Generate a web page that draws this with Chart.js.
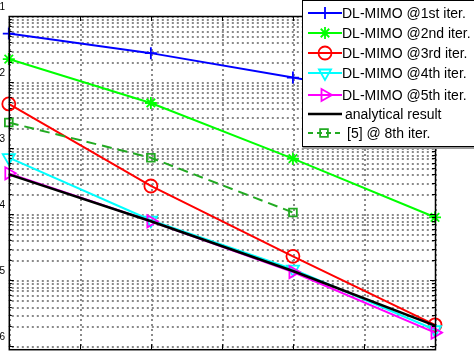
<!DOCTYPE html>
<html>
<head>
<meta charset="utf-8">
<script src="https://cdn.jsdelivr.net/npm/chart.js@4/dist/chart.umd.min.js"></script>
<style>
html,body{margin:0;padding:0;background:#fff;overflow:hidden;}
canvas{display:block;}
</style>
</head>
<body>
<canvas id="c" width="474" height="358"></canvas>
<script>
// ---- data ----
const xValues = [0, 2, 4, 6];
const xTicks = [0, 1, 2, 3, 4, 5, 6];
const iter1 = [0.0542, 0.0274, 0.0117, 0.00482];
const iter2 = [0.0223, 0.00482, 0.000692, 0.0000897];
const iter3 = [0.00467, 0.000267, 0.0000230, 0.00000211];
const iter4 = [0.000716, 0.0000809, 0.0000147, 0.00000178];
const iter5 = [0.000415, 0.0000781, 0.0000133, 0.00000161];
const analytical = [0.000401, 0.0000781, 0.0000138, 0.00000205];
const ref5 = [0.00244, 0.000716, 0.000106];
const seriesNames = ['DL-MIMO @1st iter.', 'DL-MIMO @2nd iter.', 'DL-MIMO @3rd iter.',
  'DL-MIMO @4th iter.', 'DL-MIMO @5th iter.', 'analytical result', '[5] @ 8th iter.'];
const yDecades = [1e-1, 1e-2, 1e-3, 1e-4, 1e-5, 1e-6];
const yTickLabels = ['1', '2', '3', '4', '5', '6'];

const pts = (ys) => ys.map((y, i) => ({x: xValues[i], y: y}));

function ds(label, data, color, style, rot, radius, extra) {
  return Object.assign({
    label: label, data: pts(data), borderColor: color, backgroundColor: 'transparent',
    pointStyle: style, pointRotation: rot, pointRadius: radius, pointBorderWidth: 1.8,
    pointBorderColor: color, pointBackgroundColor: 'rgba(0,0,0,0)',
    borderWidth: 2, tension: 0, clip: false, fill: false
  }, extra || {});
}

const datasets = [
  ds(seriesNames[0], iter1, '#0000ff', 'cross', 0, 6, {order: 7}),
  ds(seriesNames[1], iter2, '#00ff00', 'star', 0, 6, {order: 6}),
  ds(seriesNames[2], iter3, '#ff0000', 'circle', 0, 6.5, {order: 5}),
  ds(seriesNames[3], iter4, '#00ffff', 'triangle', 180, 7, {order: 4}),
  ds(seriesNames[4], iter5, '#ff00ff', 'triangle', 90, 7, {order: 3}),
  ds(seriesNames[5], analytical, '#000000', 'line', 0, 0, {order: 2, borderWidth: 2.5}),
  ds(seriesNames[6], ref5, '#22aa22', 'rect', 0, 5.5, {order: 1, borderDash: [10, 6]})
];

function logTicks(min, max) {
  const t = [];
  for (let e = -7; e <= 0; e++) {
    for (let k = 1; k <= 9; k++) {
      const v = k * Math.pow(10, e);
      if (v >= min * 0.999 && v <= max * 1.001) t.push({value: v, major: k === 1});
    }
  }
  return t;
}

function drawDots(ctx, a, xs, ys) {
  ctx.save();
  ctx.fillStyle = '#8a8a8a';
  ys.ticks.forEach(t => {
    const py = Math.round(ys.getPixelForValue(t.value));
    for (let px = a.left + 3; px < a.right - 1; px += 5) ctx.fillRect(px, py, 2, 2);
  });
  xTicks.forEach(v => {
    const px = Math.round(xs.getPixelForValue(v));
    for (let py = a.top + 3; py < a.bottom - 1; py += 5) ctx.fillRect(px, py, 2, 2);
  });
  ctx.restore();
}

const frame = {
  id: 'frame',
  beforeDatasetsDraw(chart) {
    drawDots(chart.ctx, chart.chartArea, chart.scales.x, chart.scales.y);
  },
  afterDraw(chart) {
    const ctx = chart.ctx, a = chart.chartArea;
    const xs = chart.scales.x, ys = chart.scales.y;
    ctx.save();
    ctx.strokeStyle = '#000';
    ctx.lineWidth = 1.5;
    ctx.strokeRect(a.left + 0.5, a.top + 0.5, a.right - a.left, a.bottom - a.top);
    // inward ticks
    ctx.lineWidth = 1;
    ctx.beginPath();
    xTicks.forEach(v => {
      const px = Math.round(xs.getPixelForValue(v)) + 0.5;
      ctx.moveTo(px, a.bottom); ctx.lineTo(px, a.bottom - 5);
      ctx.moveTo(px, a.top); ctx.lineTo(px, a.top + 5);
    });
    ys.ticks.forEach(t => {
      const py = Math.round(ys.getPixelForValue(t.value)) + 0.5;
      const len = t.major ? 5 : 3;
      ctx.moveTo(a.left, py); ctx.lineTo(a.left + len, py);
      ctx.moveTo(a.right, py); ctx.lineTo(a.right - len, py);
    });
    ctx.stroke();
    // y tick labels (exponents, cropped)
    ctx.fillStyle = '#000';
    ctx.font = '10px "Liberation Sans", Arial, sans-serif';
    ctx.textAlign = 'right';
    ctx.textBaseline = 'middle';
    yDecades.forEach((v, i) => {
      ctx.fillText(yTickLabels[i], 5, ys.getPixelForValue(v) - 9);
    });

    // legend
    const bx = 302.5, by = 0.5, bw = 200, bh = 146;
    ctx.fillStyle = '#fff';
    ctx.fillRect(bx, by, bw, bh);
    ctx.strokeStyle = '#000';
    ctx.lineWidth = 1;
    ctx.strokeRect(bx, by, bw, bh);
    ctx.strokeStyle = '#999';
    ctx.lineWidth = 2;
    ctx.beginPath(); ctx.moveTo(bx, by + bh + 1.5); ctx.lineTo(bx + bw, by + bh + 1.5); ctx.stroke();
    const rows = [13, 33, 53, 73, 95, 114, 133];
    const textX = [342, 342, 342, 342, 342, 345, 347];
    ctx.font = '14px "Liberation Sans", Arial, sans-serif';
    ctx.textAlign = 'left';
    ctx.textBaseline = 'middle';
    chart.data.datasets.forEach((d, i) => {
      const y = rows[i];
      ctx.save();
      ctx.strokeStyle = d.borderColor;
      ctx.lineWidth = d.borderWidth;
      if (d.borderDash) ctx.setLineDash([5, 4]);
      ctx.beginPath(); ctx.moveTo(308, y); ctx.lineTo(342, y); ctx.stroke();
      ctx.setLineDash([]);
      if (d.pointRadius > 0) {
        ctx.lineWidth = d.pointBorderWidth;
        ctx.strokeStyle = d.borderColor;
        ctx.fillStyle = 'rgba(0,0,0,0)';
        Chart.helpers.drawPoint(ctx, {pointStyle: d.pointStyle, rotation: d.pointRotation,
          radius: d.pointRadius, borderWidth: d.pointBorderWidth}, i === 6 ? 324 : 325, y);
      }
      ctx.restore();
      ctx.fillStyle = '#000';
      ctx.fillText(d.label, textX[i], y + 1);
    });
    ctx.restore();
  }
};

new Chart(document.getElementById('c'), {
  type: 'line',
  data: {datasets: datasets},
  options: {
    responsive: false,
    animation: false,
    events: [],
    layout: {padding: {left: 8, top: 16, right: 39, bottom: 1}},
    plugins: {legend: {display: false}, tooltip: {enabled: false}},
    scales: {
      x: {
        type: 'linear', min: 0, max: 6,
        afterBuildTicks: s => { s.ticks = xTicks.map(v => ({value: v})); },
        afterFit: s => { s.height = 0; },
        ticks: {display: false},
        grid: {display: false},
        border: {display: false}
      },
      y: {
        type: 'logarithmic', min: 9.03e-7, max: 0.1,
        afterBuildTicks: s => { s.ticks = logTicks(1e-6, 0.1); },
        afterFit: s => { s.width = 0; },
        ticks: {display: false},
        grid: {display: false},
        border: {display: false}
      }
    }
  },
  plugins: [frame]
});
</script>
</body>
</html>
